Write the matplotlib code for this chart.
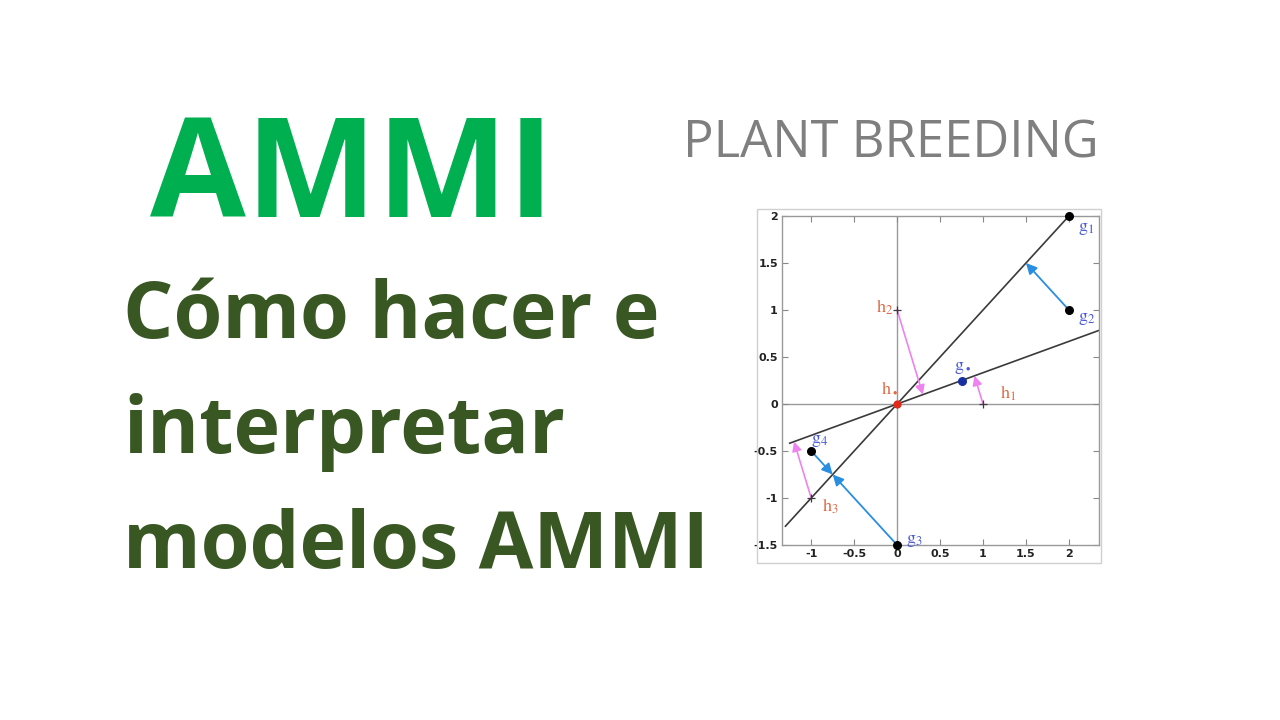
import matplotlib.pyplot as plt
from matplotlib.patches import Rectangle

plt.rcParams['mathtext.fontset'] = 'stix'

# biplot points
g_labels = [r'$\mathrm{g}_1$', r'$\mathrm{g}_2$', r'$\mathrm{g}_3$', r'$\mathrm{g}_4$']
g_x = [2, 2, 0, -1]
g_y = [2, 1, -1.5, -0.5]
g_label_x = [2.1, 2.1, 0.1, -1.0]
g_label_y = [1.87, 0.91, -1.45, -0.38]

h_labels = [r'$\mathrm{h}_1$', r'$\mathrm{h}_2$', r'$\mathrm{h}_3$']
h_x = [1, 0, -1]
h_y = [0, 1, -1]
h_label_x = [1.2, -0.25, -0.87]
h_label_y = [0.11, 1.03, -1.09]

gstar = (0.75, 0.25)
hstar = (0, 0)

# projection lines (start, end)
line1_x = [-1.3, 2]
line1_y = [-1.3, 2]
line2_x = [-1.25, 2.35]
line2_y = [-0.417, 0.783]

# arrows: from -> to
blue_from = [(2, 1), (0, -1.5), (-1, -0.5)]
blue_to = [(1.5, 1.5), (-0.75, -0.75), (-0.75, -0.75)]
pink_from = [(0, 1), (1, 0), (-1, -1)]
pink_to = [(0.3, 0.1), (0.9, 0.3), (-1.2, -0.4)]

xticks = [-1, -0.5, 0, 0.5, 1, 1.5, 2]
yticks = [-1.5, -1, -0.5, 0, 0.5, 1, 1.5, 2]

fig = plt.figure(figsize=(12.8, 7.2), dpi=100)
fig.patch.set_facecolor('white')

# headings
fig.text(150 / 1280, 1 - 217 / 720, 'AMMI', fontsize=100, fontweight='bold',
         family='Open Sans', color='#00B050', ha='left', va='baseline')
fig.text(683 / 1280, 1 - 158 / 720, 'PLANT BREEDING', fontsize=36.5,
         family='Open Sans', color='#7F7F7F', ha='left', va='baseline')
title_lines = ['Cómo hacer e', 'interpretar', 'modelos AMMI']
baselines = [338, 453, 568]
for txt, b in zip(title_lines, baselines):
    fig.text(123 / 1280, 1 - b / 720, txt, fontsize=57, fontweight='bold',
             family='Open Sans', color='#385723', ha='left', va='baseline')

# light frame around the chart image
fig.patches.append(Rectangle((757 / 1280, 1 - 563 / 720), 344 / 1280, 354 / 720,
                             transform=fig.transFigure, fill=False,
                             edgecolor='#d0d0d0', lw=1))

ax = fig.add_axes([782 / 1280, 1 - 545 / 720, 317 / 1280, 329 / 720])
ax.set_xlim(-1.34, 2.35)
ax.set_ylim(-1.5, 2.0)
ax.axhline(0, color='#9a9a9a', lw=1, zorder=1)
ax.axvline(0, color='#9a9a9a', lw=1, zorder=1)

ax.plot(line1_x, line1_y, color='#3a3a3a', lw=1.2, zorder=2)
ax.plot(line2_x, line2_y, color='#3a3a3a', lw=1.2, zorder=2)

for (x0, y0), (x1, y1) in zip(blue_from, blue_to):
    ax.annotate('', xy=(x1, y1), xytext=(x0, y0),
                arrowprops=dict(arrowstyle='-|>', color='#2a8ee0', lw=1.3,
                                mutation_scale=16, shrinkA=0, shrinkB=0), zorder=3)
for (x0, y0), (x1, y1) in zip(pink_from, pink_to):
    ax.annotate('', xy=(x1, y1), xytext=(x0, y0),
                arrowprops=dict(arrowstyle='-|>', color='#ee82ee', lw=1.2,
                                mutation_scale=14, shrinkA=0, shrinkB=0), zorder=3)

ax.scatter(g_x, g_y, s=30, color='black', zorder=5, clip_on=False)
ax.scatter(h_x, h_y, s=34, marker='+', color='#3a3a3a', lw=0.9, zorder=5)
ax.scatter([gstar[0]], [gstar[1]], s=30, color='#1830a0', zorder=5)
ax.scatter([hstar[0]], [hstar[1]], s=24, color='#e02a1a', zorder=5)

for lab, x, y in zip(g_labels, g_label_x, g_label_y):
    ax.text(x, y, lab, color='#4a5ad8', fontsize=13, ha='left', va='center')
for lab, x, y in zip(h_labels, h_label_x, h_label_y):
    ax.text(x, y, lab, color='#e06a45', fontsize=13, ha='left', va='center')
ax.text(0.66, 0.39, r'$\mathrm{g}_\bullet$', color='#4a5ad8', fontsize=13, ha='left', va='center')
ax.text(-0.19, 0.17, r'$\mathrm{h}_\bullet$', color='#e06a45', fontsize=13, ha='left', va='center')

ax.set_xticks(xticks)
ax.set_xticklabels([f'{v:g}' for v in xticks])
ax.set_yticks(yticks)
ax.set_yticklabels([f'{v:g}' for v in yticks])
ax.tick_params(direction='in', top=True, right=True, length=4, width=0.8,
               color='#888888', labelsize=8, labelcolor='#222222', pad=3)
for lbl in ax.get_xticklabels() + ax.get_yticklabels():
    lbl.set_fontweight('bold')
for s in ax.spines.values():
    s.set_color('#999999')
    s.set_linewidth(1)

fig.savefig('out.png', dpi=100)
